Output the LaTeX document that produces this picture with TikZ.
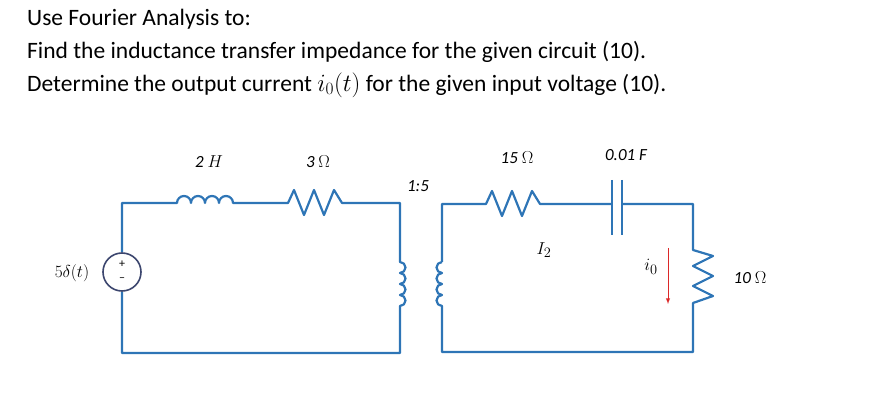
\documentclass[tikz,border=0pt]{standalone}
\usepackage{fontspec}
\setmainfont{Carlito}
\definecolor{wire}{RGB}{46,117,182}
\definecolor{src}{RGB}{60,70,110}
\definecolor{arr}{RGB}{220,40,40}
\begin{document}
\begin{tikzpicture}[x=1pt,y=-1pt,
  w/.style={draw=wire,line width=2.2pt,line join=round},
  lbl/.style={font=\itshape\fontsize{17}{19}\selectfont,inner sep=1pt},
  mth/.style={font=\fontsize{19}{19}\selectfont,inner sep=1pt},
  hdr/.style={font=\fontsize{23.5}{26}\selectfont,anchor=west,inner sep=0pt}]
\useasboundingbox (0,0) rectangle (886,411);
\node[hdr] (h1) at (27,19) {Use Fourier Analysis to:};
\node[hdr] (h2) at (27,52) {Find the inductance transfer impedance for the given circuit (10).};
\node[hdr] (h3) at (27,85) {Determine the output current $i_0(t)$ for the given input voltage (10).};
% left loop
\draw[w] (122,252) -- (122,203) -- (177,203)
  arc(180:360:7) arc(180:360:7) arc(180:360:7) arc(180:360:7)
  -- (288,203) -- (294,190) -- (304,215) -- (314,190) -- (324,215) -- (334,190) -- (342,203)
  -- (400,203) -- (400,262)
  arc(-90:90:5.5) arc(-90:90:5.5) arc(-90:90:5.5) arc(-90:90:5.5)
  -- (400,353) -- (122,353) -- (122,292);
\node[draw=src,line width=1.6pt,circle,minimum size=38pt,inner sep=0pt] (vs) at (122,272) {};
\node[font=\fontsize{12}{12}\selectfont] (pl) at (122,264) {+};
\node[font=\fontsize{12}{12}\selectfont] (mi) at (122,280) {--};
% right loop
\draw[w] (442,262) -- (442,204) -- (486,204) -- (492,191) -- (502,216) -- (512,191) -- (522,216) -- (532,191) -- (540,204)
  -- (612,204) (622,204) -- (693,204) -- (693,250)
  -- (713,256) -- (693,266) -- (713,276) -- (693,286) -- (713,296) -- (693,303) -- (693,352) -- (442,352) -- (442,306)
  arc(90:270:5.5) arc(90:270:5.5) arc(90:270:5.5) arc(90:270:5.5);
\draw[w] (612,180) -- (612,235) (622,180) -- (622,235);
\draw[arr,line width=0.9pt,-{latex}] (668,248) -- (668,304);
\node[lbl] (l2h) at (209,162) {2 $H$};
\node[lbl] (l3) at (318,162) {3 $\Omega$};
\node[lbl] (l15) at (418,186) {1:5};
\node[lbl] (l15o) at (517,158) {15 $\Omega$};
\node[lbl] (lc) at (626,155) {0.01 F};
\node[lbl] (l10) at (750,278) {10 $\Omega$};
\node[mth] (i2) at (544,250) {$I_2$};
\node[mth] (i0) at (651,267) {$i_0$};
\node[mth] (vsl) at (72,273) {$5\delta(t)$};
\end{tikzpicture}
\end{document}
